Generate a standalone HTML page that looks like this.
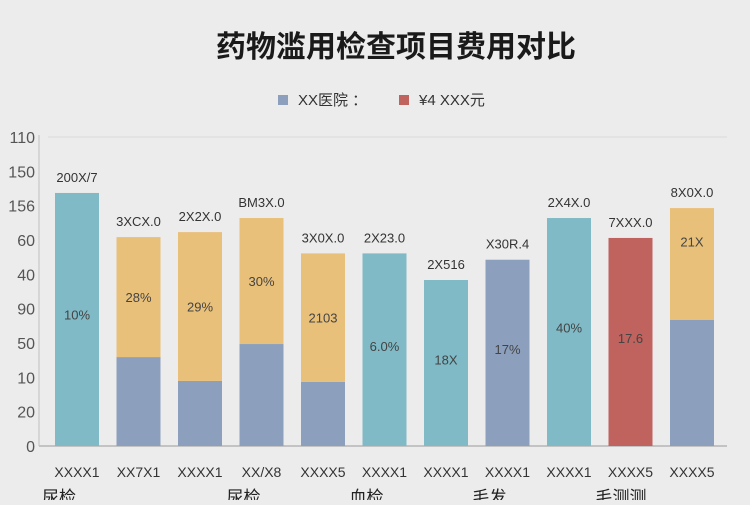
<!DOCTYPE html>
<html><head><meta charset="utf-8">
<style>
html,body{margin:0;padding:0;}
body{width:750px;height:500px;overflow:hidden;background:#ececec;font-family:"Liberation Sans","Noto Sans CJK SC",sans-serif;}
svg text{font-family:"Liberation Sans","Noto Sans CJK SC",sans-serif;}
</style></head>
<body>
<svg id="chart" width="750" height="500">
  <rect x="0" y="0" width="750" height="500" fill="#ececec"/>
  <text x="396" y="57" text-anchor="middle" font-size="30" font-weight="bold" fill="#1a1a1a">药物滥用检查项目费用对比</text>
  <g>
    <rect x="278" y="95" width="10" height="10" fill="#8c9fbd"/>
    <text x="298" y="105" font-size="15" fill="#333">XX医院 ：</text>
    <rect x="399" y="95" width="10" height="10" fill="#c0625e"/>
    <text x="419" y="105" font-size="15" fill="#333">¥4 XXX元</text>
  </g>
  <g id="axes"></g>
  <g id="bars"></g>
</svg>
<script>
const tickValues=[0,20,40,60,80,100,120,140,160,180];
const tickLabels=["0","20","10","50","90","40","60","156","150","110"];
const xLabels=["XXXX1","XX7X1","XXXX1","XX/X8","XXXX5","XXXX1","XXXX1","XXXX1","XXXX1","XXXX5","XXXX5"];
const groupLabels=["尿检","","","尿检","","血检","","毛发","","毛测测",""];
const tealValues=[147.4,0,0,0,0,112.2,96.7,0,132.8,0,0];
const blueValues=[0,51.8,37.9,59.4,37.3,0,0,108.5,0,0,73.4];
const orangeValues=[0,69.9,86.7,73.4,74.9,0,0,0,0,0,65.2];
const redValues=[0,0,0,0,0,0,0,0,0,121.2,0];
const topLabels=["200X/7","3XCX.0","2X2X.0","BM3X.0","3X0X.0","2X23.0","2X516","X30R.4","2X4X.0","7XXX.0","8X0X.0"];
const innerLabels=["10%","28%","29%","30%","2103","6.0%","18X","17%","40%","17.6","21X"];

const NS="http://www.w3.org/2000/svg";
const y0=446,yTop=137,vMax=180;
function yS(v){return y0-v*(y0-yTop)/vMax;}
const x0=77,step=61.5,bw=44;
function xC(i){return x0+i*step;}
function mk(tag,attrs,parent,text){const e=document.createElementNS(NS,tag);for(const k in attrs)e.setAttribute(k,attrs[k]);if(text!==undefined)e.textContent=text;parent.appendChild(e);return e;}
const axes=document.getElementById('axes'),bars=document.getElementById('bars');

let ax=mk('line',{x1:39,y1:y0,x2:727,y2:y0,stroke:'#b5b5b5','stroke-width':1.5},axes);


let ay=mk('line',{x1:39,y1:yTop-2,x2:39,y2:y0,stroke:'#c0c0c0','stroke-width':1},axes);


let gl=mk('line',{x1:48,y1:yTop,x2:727,y2:yTop,stroke:'#dadada','stroke-width':1},axes);


tickValues.forEach((v,i)=>{
  const t=mk('text',{x:35,y:yS(v)+6,'text-anchor':'end','font-size':16,fill:'#555'},axes,tickLabels[i]);
  
  
});
const colors={teal:'#7fbac6',blue:'#8c9fbd',orange:'#e9c07a',red:'#c0625e'};
xLabels.forEach((lab,i)=>{
  const cx=xC(i);let base=0;
  const segs=[['teal',tealValues[i]],['blue',blueValues[i]],['orange',orangeValues[i]],['red',redValues[i]]];
  segs.forEach(([c,v])=>{
    if(v>0){
      const r=mk('rect',{x:cx-bw/2,y:yS(base+v),width:bw,height:yS(base)-yS(base+v),fill:colors[c]},bars);
      
      
      base+=v;
    }
  });
  const tl=mk('text',{x:cx,y:yS(base)-11,'text-anchor':'middle','font-size':13,fill:'#333'},bars,topLabels[i]);
  
  
  let midV;
  if(orangeValues[i]>0){midV=blueValues[i]+orangeValues[i]/2;} else {midV=base*0.52;}
  if(i===10) midV=blueValues[i]+orangeValues[i]*0.7;
  const il=mk('text',{x:cx,y:yS(midV)+5,'text-anchor':'middle','font-size':13,fill:'#444'},bars,innerLabels[i]);
  
  
  const xl=mk('text',{x:cx,y:477,'text-anchor':'middle','font-size':14,fill:'#333'},axes,lab);
  
  
  if(groupLabels[i]){
    const g=mk('text',{x:cx-35,y:503,'font-size':17,fill:'#222'},axes,groupLabels[i]);
    
    
  }
});
</script>
</body></html>
